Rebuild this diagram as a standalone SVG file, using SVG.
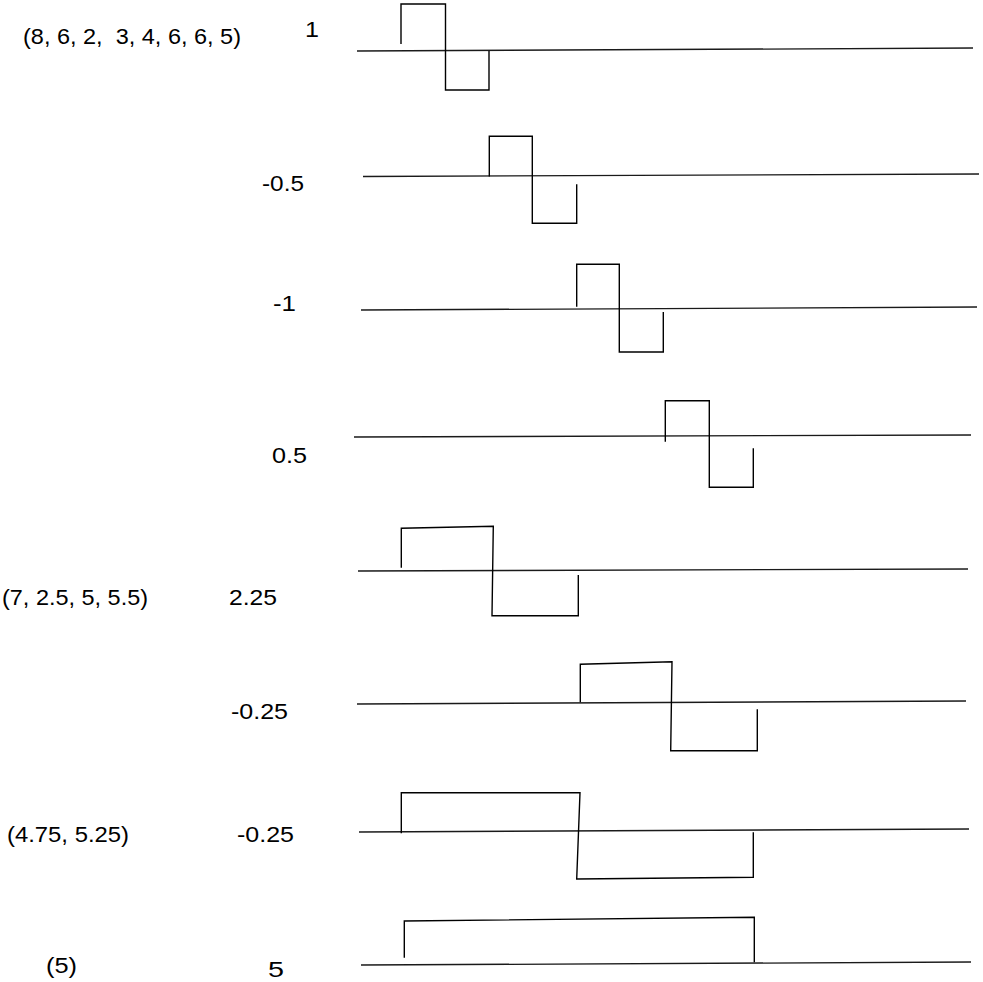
<svg xmlns="http://www.w3.org/2000/svg" width="983" height="982" viewBox="0 0 983 982">
<style>
.ax{stroke:#1a1a1a;stroke-width:1.3;fill:none}
.w{stroke:#000;stroke-width:1.4;fill:none;stroke-linejoin:miter}
text{font-family:"Liberation Sans",Arial,sans-serif;font-size:22px;fill:#000;white-space:pre}
</style>
<rect width="983" height="982" fill="#fff"/>
<g id="labels">
<text x="23" y="44" textLength="218" lengthAdjust="spacingAndGlyphs">(8, 6, 2,  3, 4, 6, 6, 5)</text>
<text x="305" y="37" textLength="14" lengthAdjust="spacingAndGlyphs">1</text>
<text x="262" y="191" textLength="42" lengthAdjust="spacingAndGlyphs">-0.5</text>
<text x="273" y="311" textLength="23" lengthAdjust="spacingAndGlyphs">-1</text>
<text x="272" y="463" textLength="35" lengthAdjust="spacingAndGlyphs">0.5</text>
<text x="2" y="605" textLength="146" lengthAdjust="spacingAndGlyphs">(7, 2.5, 5, 5.5)</text>
<text x="229" y="605" textLength="48" lengthAdjust="spacingAndGlyphs">2.25</text>
<text x="231" y="719" textLength="57" lengthAdjust="spacingAndGlyphs">-0.25</text>
<text x="7" y="842" textLength="122" lengthAdjust="spacingAndGlyphs">(4.75, 5.25)</text>
<text x="237" y="842" textLength="57" lengthAdjust="spacingAndGlyphs">-0.25</text>
<text x="46" y="973" textLength="31" lengthAdjust="spacingAndGlyphs">(5)</text>
<text x="268" y="977" textLength="16" lengthAdjust="spacingAndGlyphs">5</text>
</g>
<g id="row1">
<line class="ax" x1="357" y1="51" x2="973" y2="48"/>
<polyline class="w" points="401,44 401,4 445.5,4 445.5,90 489,90 489,51"/>
</g>
<g id="row2">
<line class="ax" x1="363" y1="176.5" x2="979" y2="174"/>
<polyline class="w" points="489.3,176.5 489.3,136.3 532.3,136.3 532.3,223.3 576.7,223.3 576.7,184.3"/>
</g>
<g id="row3">
<line class="ax" x1="361" y1="310" x2="977" y2="307"/>
<polyline class="w" points="576.7,306.7 576.7,264.3 619.3,264.3 619.3,352 663.3,352 663.3,312"/>
</g>
<g id="row4">
<line class="ax" x1="354" y1="437" x2="971" y2="435"/>
<polyline class="w" points="665.3,441.7 665.3,400.7 709.3,400.7 709.3,487.3 753.3,487.3 753.3,448.3"/>
</g>
<g id="row5">
<line class="ax" x1="358" y1="571" x2="968" y2="569"/>
<polyline class="w" points="401.3,567.7 401.3,528.3 493.3,526.3 492,615.7 578.3,615.7 578.3,575"/>
</g>
<g id="row6">
<line class="ax" x1="357" y1="704" x2="966" y2="701"/>
<polyline class="w" points="580.3,702.3 580.3,664.3 672,661.7 670.7,750.7 757.3,750.7 757.3,709.3"/>
</g>
<g id="row7">
<line class="ax" x1="359" y1="832" x2="969" y2="829"/>
<polyline class="w" points="401.3,833.3 401.3,792.7 580,792.7 576.7,879 753.3,877.3 753.3,832.3"/>
</g>
<g id="row8">
<line class="ax" x1="361" y1="965" x2="971" y2="962"/>
<polyline class="w" points="404.3,957.7 404.3,921 754.3,917.3 754.3,962.3"/>
</g>
</svg>
